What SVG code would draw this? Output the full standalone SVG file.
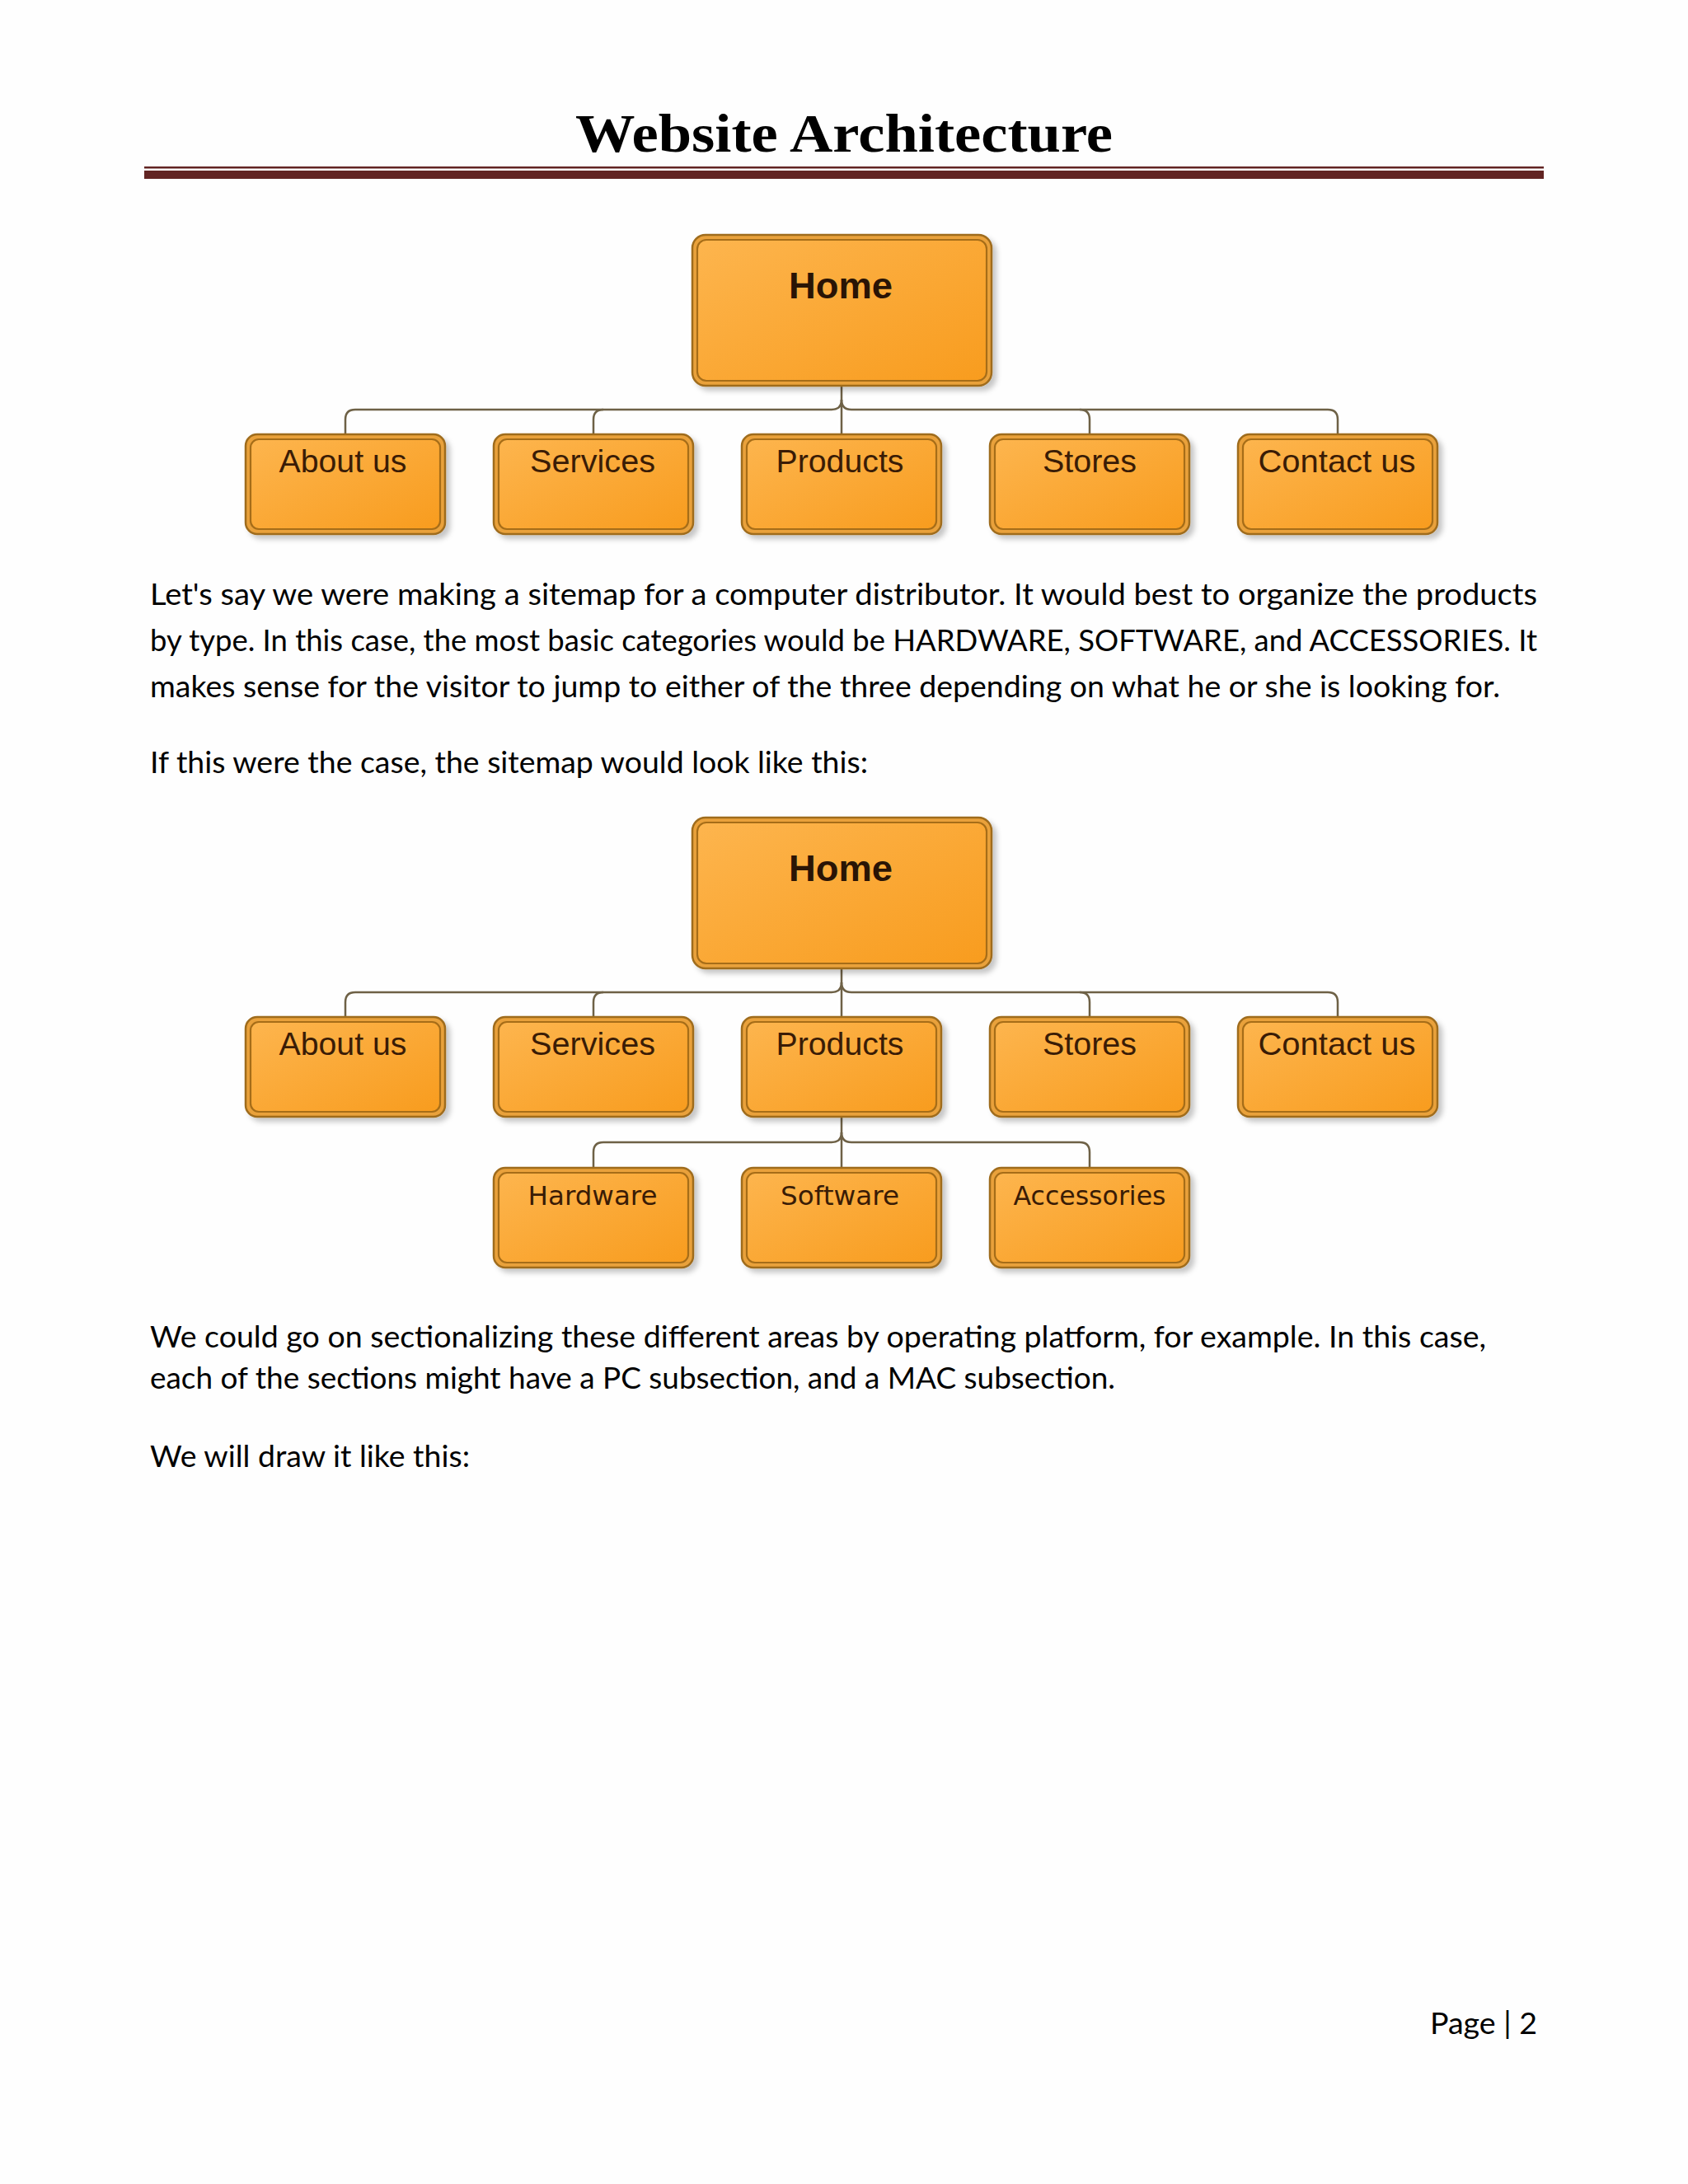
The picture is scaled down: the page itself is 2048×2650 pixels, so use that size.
<svg xmlns="http://www.w3.org/2000/svg" width="2048" height="2650" viewBox="0 0 2048 2650">
<defs>
<linearGradient id="og" x1="0" y1="0" x2="1" y2="1">
<stop offset="0" stop-color="#fdb54e"/>
<stop offset="1" stop-color="#f89c1e"/>
</linearGradient>
<filter id="sh" x="-10%" y="-10%" width="125%" height="130%">
<feDropShadow dx="5" dy="5" stdDeviation="3" flood-color="#000" flood-opacity="0.22"/>
</filter>
<style>
.o{fill:#e9a13a;stroke:#9f6c1f;stroke-width:2.5}
.i{fill:url(#og);stroke:#a66d18;stroke-width:2.2}
.hl{font-family:"Liberation Sans",Arial,sans-serif;font-weight:bold;font-size:45px;fill:#2a1405;text-anchor:middle}
.cl{font-family:"Liberation Sans",Arial,sans-serif;font-size:39px;fill:#3a1c06;text-anchor:middle}
.sl{font-family:"DejaVu Sans",Verdana,sans-serif;font-size:32px;fill:#3a1c06;text-anchor:middle}
.body{font-family:Lato,"Open Sans",sans-serif;font-size:37px;fill:#000}
.title{font-family:"Liberation Serif","Times New Roman",serif;font-weight:bold;font-size:66px;fill:#000}
.cn{fill:none;stroke:#6e6146;stroke-width:2.5}
</style>
</defs>
<rect x="0" y="0" width="2048" height="2650" fill="#fefefe"/>

<g id="header">
<text class="title" x="698" y="184" textLength="652" lengthAdjust="spacingAndGlyphs">Website Architecture</text>
<rect x="175" y="202" width="1698" height="2.5" fill="#622423"/>
<rect x="175" y="207" width="1698" height="10" fill="#622423"/>
</g>

<g id="connectors">
<!-- diagram 1 -->
<path class="cn" d="M1021 468 V527"/>
<path class="cn" d="M419 527 V509 Q419 497 431 497 H1009 Q1021 497 1021 485"/>
<path class="cn" d="M720 527 V509 Q720 497 732 497"/>
<path class="cn" d="M1623 527 V509 Q1623 497 1611 497 H1033 Q1021 497 1021 485"/>
<path class="cn" d="M1322 527 V509 Q1322 497 1310 497"/>
<!-- diagram 2 -->
<path class="cn" d="M1021 1175 V1234"/>
<path class="cn" d="M419 1234 V1216 Q419 1204 431 1204 H1009 Q1021 1204 1021 1192"/>
<path class="cn" d="M720 1234 V1216 Q720 1204 732 1204"/>
<path class="cn" d="M1623 1234 V1216 Q1623 1204 1611 1204 H1033 Q1021 1204 1021 1192"/>
<path class="cn" d="M1322 1234 V1216 Q1322 1204 1310 1204"/>
<!-- sub row -->
<path class="cn" d="M1021 1355 V1417"/>
<path class="cn" d="M720 1417 V1398 Q720 1386 732 1386 H1009 Q1021 1386 1021 1374"/>
<path class="cn" d="M1322 1417 V1398 Q1322 1386 1310 1386 H1033 Q1021 1386 1021 1374"/>
</g>

<!-- Diagram 1 -->
<g id="home1"><rect class="o" filter="url(#sh)" x="840" y="285" width="363" height="183" rx="16"/><rect class="i" x="846" y="291" width="351" height="171" rx="11"/><text class="hl" x="1020" y="362" textLength="126" lengthAdjust="spacingAndGlyphs">Home</text></g>
<g id="about1"><rect class="o" filter="url(#sh)" x="298" y="527" width="242" height="121" rx="14"/><rect class="i" x="304" y="533" width="230" height="109" rx="10"/><text class="cl" x="416" y="573" textLength="155" lengthAdjust="spacingAndGlyphs">About us</text></g>
<g id="services1"><rect class="o" filter="url(#sh)" x="599" y="527" width="242" height="121" rx="14"/><rect class="i" x="605" y="533" width="230" height="109" rx="10"/><text class="cl" x="719" y="573" textLength="152" lengthAdjust="spacingAndGlyphs">Services</text></g>
<g id="products1"><rect class="o" filter="url(#sh)" x="900" y="527" width="242" height="121" rx="14"/><rect class="i" x="906" y="533" width="230" height="109" rx="10"/><text class="cl" x="1019" y="573" textLength="155" lengthAdjust="spacingAndGlyphs">Products</text></g>
<g id="stores1"><rect class="o" filter="url(#sh)" x="1201" y="527" width="242" height="121" rx="14"/><rect class="i" x="1207" y="533" width="230" height="109" rx="10"/><text class="cl" x="1322" y="573" textLength="114" lengthAdjust="spacingAndGlyphs">Stores</text></g>
<g id="contact1"><rect class="o" filter="url(#sh)" x="1502" y="527" width="242" height="121" rx="14"/><rect class="i" x="1508" y="533" width="230" height="109" rx="10"/><text class="cl" x="1622" y="573" textLength="191" lengthAdjust="spacingAndGlyphs">Contact us</text></g>

<g id="para1">
<text class="body" x="182" y="734" textLength="1683" lengthAdjust="spacingAndGlyphs">Let's say we were making a sitemap for a computer distributor. It would best to organize the products</text>
<text class="body" x="182" y="790" textLength="1683" lengthAdjust="spacingAndGlyphs">by type. In this case, the most basic categories would be HARDWARE, SOFTWARE, and ACCESSORIES. It</text>
<text class="body" x="182" y="846" textLength="1638" lengthAdjust="spacingAndGlyphs">makes sense for the visitor to jump to either of the three depending on what he or she is looking for.</text>
<text class="body" x="182" y="938" textLength="871" lengthAdjust="spacingAndGlyphs">If this were the case, the sitemap would look like this:</text>
</g>

<!-- Diagram 2 -->
<g id="home2"><rect class="o" filter="url(#sh)" x="840" y="992" width="363" height="183" rx="16"/><rect class="i" x="846" y="998" width="351" height="171" rx="11"/><text class="hl" x="1020" y="1069" textLength="126" lengthAdjust="spacingAndGlyphs">Home</text></g>
<g id="about2"><rect class="o" filter="url(#sh)" x="298" y="1234" width="242" height="121" rx="14"/><rect class="i" x="304" y="1240" width="230" height="109" rx="10"/><text class="cl" x="416" y="1280" textLength="155" lengthAdjust="spacingAndGlyphs">About us</text></g>
<g id="services2"><rect class="o" filter="url(#sh)" x="599" y="1234" width="242" height="121" rx="14"/><rect class="i" x="605" y="1240" width="230" height="109" rx="10"/><text class="cl" x="719" y="1280" textLength="152" lengthAdjust="spacingAndGlyphs">Services</text></g>
<g id="products2"><rect class="o" filter="url(#sh)" x="900" y="1234" width="242" height="121" rx="14"/><rect class="i" x="906" y="1240" width="230" height="109" rx="10"/><text class="cl" x="1019" y="1280" textLength="155" lengthAdjust="spacingAndGlyphs">Products</text></g>
<g id="stores2"><rect class="o" filter="url(#sh)" x="1201" y="1234" width="242" height="121" rx="14"/><rect class="i" x="1207" y="1240" width="230" height="109" rx="10"/><text class="cl" x="1322" y="1280" textLength="114" lengthAdjust="spacingAndGlyphs">Stores</text></g>
<g id="contact2"><rect class="o" filter="url(#sh)" x="1502" y="1234" width="242" height="121" rx="14"/><rect class="i" x="1508" y="1240" width="230" height="109" rx="10"/><text class="cl" x="1622" y="1280" textLength="191" lengthAdjust="spacingAndGlyphs">Contact us</text></g>
<g id="hardware"><rect class="o" filter="url(#sh)" x="599" y="1417" width="242" height="121" rx="14"/><rect class="i" x="605" y="1423" width="230" height="109" rx="10"/><text class="sl" x="719" y="1462" textLength="157" lengthAdjust="spacingAndGlyphs">Hardware</text></g>
<g id="software"><rect class="o" filter="url(#sh)" x="900" y="1417" width="242" height="121" rx="14"/><rect class="i" x="906" y="1423" width="230" height="109" rx="10"/><text class="sl" x="1019" y="1462" textLength="144" lengthAdjust="spacingAndGlyphs">Software</text></g>
<g id="accessories"><rect class="o" filter="url(#sh)" x="1201" y="1417" width="242" height="121" rx="14"/><rect class="i" x="1207" y="1423" width="230" height="109" rx="10"/><text class="sl" x="1322" y="1462" textLength="185" lengthAdjust="spacingAndGlyphs">Accessories</text></g>

<g id="para2">
<text class="body" x="182" y="1635" textLength="1621" lengthAdjust="spacingAndGlyphs">We could go on sectionalizing these different areas by operating platform, for example. In this case,</text>
<text class="body" x="182" y="1685" textLength="1171" lengthAdjust="spacingAndGlyphs">each of the sections might have a PC subsection, and a MAC subsection.</text>
<text class="body" x="182" y="1780" textLength="388" lengthAdjust="spacingAndGlyphs">We will draw it like this:</text>
</g>

<g id="footer">
<text class="body" x="1735" y="2468" textLength="130" lengthAdjust="spacingAndGlyphs">Page | 2</text>
</g>
</svg>
